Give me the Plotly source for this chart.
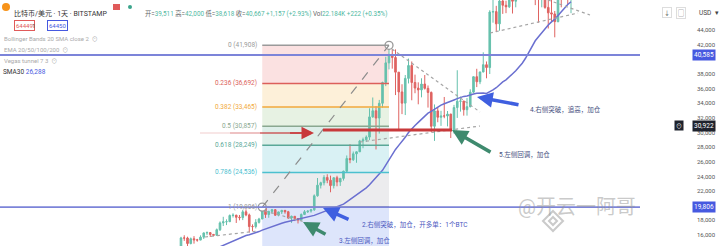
import pandas as pd
import plotly.graph_objects as go

# ---------------- data (daily BTC/USD, Bitstamp) ----------------
oct_close = [10620,10570,10550,10670,10790,10600,10670,10920,11060,11300,11380,11540,11430,11430,11500,
             11320,11370,11510,11750,11920,12820,12990,12930,13120,13030,13070,13650,13270,13460,13560,13800]

nov_open  = [13800,13760,13550,13950,14130,15590,15580,14830,15480,15330,15300,15700,16280,16320,16070,
             15960,16720,17650,17800,17820,18660,18700,18420,18370,19160,18740,17150,17140,17720,18180]
nov_high  = [13890,13820,14070,14240,15750,15960,15760,15650,15840,15470,15950,16340,16480,16330,16140,
             16880,17850,18480,18130,18800,18960,18760,18730,19420,19490,18920,17450,18160,18340,19806]
nov_low   = [13600,13200,13290,13530,14100,15190,14380,14710,14810,15080,15280,15450,15970,15720,15830,
             15870,16540,17220,17350,17750,18380,17640,18000,18030,18560,16330,16500,16890,17560,18180]
nov_close = [13760,13550,13950,14130,15590,15580,14830,15480,15330,15300,15700,16280,16320,16070,15960,
             16720,17650,17800,17820,18660,18700,18420,18370,19160,18740,17150,17140,17720,18180,19700]

dec_open  = [19700,18790,19220,19450,18700,19150,19360,19170,18320,18550,18250,18030,18800,19170,19270,19440,
             21350,22800,23130,23860,23480,22740,23820,23240,23730,24710,26440,26280,27080,27360,28840]
dec_high  = [19780,19300,19560,19520,19180,19420,19410,19290,18640,18560,18280,18940,19400,19330,19560,21540,
             23780,23270,24170,24290,24100,23840,24090,23800,24780,26860,28400,27400,27400,28990,29300]
dec_low   = [18330,18350,18920,18600,18550,18860,18900,18200,17650,17900,17570,18000,18720,19000,19050,19290,
             21230,22350,22770,23070,21830,22350,22650,22700,23430,24510,25800,26110,25860,27350,27850]
dec_close = [18790,19220,19450,18700,19150,19360,19170,18320,18550,18250,18030,18800,19170,19270,19440,21350,
             22800,23130,23860,23480,22740,23820,23240,23730,24710,26440,26280,27080,27360,28840,29000]

jan_open  = [29000,29370,32130,32960,31970,33990,36820,39511,40667,40240,38240,35540,34010,37390,39150,36830,
             36070,35810,36620,36030,35470,30850,32950,32080,32260,32250,32510,30400,33400,34270,34300]
jan_high  = [29600,33300,34780,33600,34450,36940,40340,42000,41380,41350,38260,36590,37850,40100,39700,37900,
             36850,37400,37850,36420,35600,33830,33460,32960,34850,32930,32560,33770,38500,34900,34300]
jan_low   = [28700,28950,32000,27680,29850,33400,36330,38618,38720,35110,30420,32510,32380,36700,34400,35360,
             33850,34800,35860,33400,30070,28850,31400,30900,31950,30830,29240,29850,31990,32850,32300]
jan_close = [29370,32130,32960,31970,33990,36820,39510,40667,40240,38240,35540,34010,37390,39150,36830,36070,
             35810,36620,36030,35470,30850,32950,32080,32260,32250,32510,30400,33400,34270,34300,33110]

feb_open  = [33110,33520,35510,37620,36930,38270,39260,38870,46450,46510,44840,47960,47380,47170,
             48730,47930,49170,52150,51600,55940,55910,57490,54100,48900,49700,47090,46340,46190]
feb_high  = [34700,35900,37650,38700,38300,40950,39700,46700,48200,47300,48600,48950,48000,49700,
             49000,50600,52600,52550,56300,57500,58350,57500,54200,51350,52000,48400,48300,46600]
feb_low   = [32300,33430,35400,36200,36600,38210,37400,37990,45000,43720,43900,46200,46300,47000,
             46250,47100,48950,50900,50700,53900,55500,47400,45000,47100,46900,44200,45200,43000]
feb_close = [33520,35510,37620,36930,38270,39260,38870,46450,46510,44840,47960,47380,47170,48730,
             47930,49170,52150,51600,55940,55910,57490,54100,48900,49700,47090,46340,46190,45140]

mar_open  = [45140,49630,48380,50540,48370]
mar_high  = [49800,50200,52600,51800,49400]
mar_low   = [45050,47100,48100,47500,46300]
mar_close = [49630,48380,50540,48370,48760]

dates = pd.date_range("2020-11-01", "2021-03-05", freq="D")
opens  = nov_open + dec_open + jan_open + feb_open + mar_open
highs  = nov_high + dec_high + jan_high + feb_high + mar_high
lows   = nov_low + dec_low + jan_low + feb_low + mar_low
closes = nov_close + dec_close + jan_close + feb_close + mar_close

sma30 = pd.Series(oct_close + closes).rolling(30).mean().iloc[len(oct_close):].tolist()

# Fibonacci retracement anchors
fib_lo, fib_hi = 19806, 41908
fib_start, fib_end = "2020-11-30", "2021-01-08"
fib_ratios = [0, 0.236, 0.382, 0.5, 0.618, 0.786, 1, 1.618]
fib_line_colors = ["#9a9a9a", "#dc5f5b", "#f2a93b", "#8aa890", "#5aa898", "#4cc0cf", "#9a9a9a"]
fib_zone_colors = ["#fbe1e1", "#fdf0d9", "#e7f2e3", "#ddefe9", "#d9f1f4", "#ececee", "#dde5fb"]

hline_prices = [40585, 19806]
price_ticks = [16000, 18000, 22000, 24000, 26000, 28000, 30000, 32000, 34000,
               36000, 38000, 42000, 44000]
last_price = 30922

# ---------------- geometry helpers ----------------
W, H, PW = 720, 246, 640
ref_day, ref_px, ppd = pd.Timestamp("2021-01-08"), 389, 3.25
x_start = ref_day - pd.Timedelta(days=ref_px / ppd)
x_end = ref_day + pd.Timedelta(days=(PW - ref_px) / ppd)
y_range = [14492, 48098]

def xd(px):
    return ref_day + pd.Timedelta(days=(px - ref_px) / ppd)

def yp(py):
    return y_range[1] - py / H * (y_range[1] - y_range[0])

def pxp(x):
    return x / PW

def pyp(y):
    return 1 - y / H

FONT = "Roboto, 'Noto Sans CJK SC', sans-serif"

fig = go.Figure()

fig.add_trace(go.Candlestick(
    x=dates, open=opens, high=highs, low=lows, close=closes,
    increasing=dict(line=dict(color="#66c1ad", width=1), fillcolor="#66c1ad"),
    decreasing=dict(line=dict(color="#df6361", width=1), fillcolor="#df6361"),
    whiskerwidth=0, hoverinfo="skip", showlegend=False))

fig.add_trace(go.Scatter(x=dates, y=sma30, mode="lines",
                         line=dict(color="#6a6fd0", width=1.5), hoverinfo="skip", showlegend=False))

shapes = []
annos = []
span = fib_hi - fib_lo
levels = [fib_hi - r * span for r in fib_ratios]
for i in range(len(fib_ratios) - 1):
    shapes.append(dict(type="rect", xref="x", yref="y", x0=fib_start, x1=fib_end,
                       y0=levels[i + 1], y1=levels[i], fillcolor=fib_zone_colors[i],
                       line=dict(width=0), layer="below"))
for i in range(7):
    shapes.append(dict(type="line", xref="x", yref="y", x0=fib_start, x1=fib_end,
                       y0=levels[i], y1=levels[i], line=dict(color=fib_line_colors[i], width=1.5)))
    annos.append(dict(x=fib_start, y=levels[i], xref="x", yref="y", xanchor="right", xshift=-3,
                      text=f"{fib_ratios[i]:g} ({levels[i]:,.0f})", showarrow=False,
                      font=dict(size=6.5, color=fib_line_colors[i])))

# fib trend line
shapes.append(dict(type="line", xref="x", yref="y", x0=fib_start, x1=fib_end, y0=fib_lo, y1=fib_hi,
                   line=dict(color="#8c8c8c", width=1.2, dash="dash")))

# horizontal blue lines
for p in hline_prices:
    shapes.append(dict(type="line", xref="paper", yref="y", x0=0, x1=1, y0=p, y1=p,
                       line=dict(color="#7c84d9", width=1.8)))

# dotted trend lines
dotted = [((392, 49), (480, 112)), ((360, 142), (480, 126)), ((490, 33), (578, 13)),
          ((548, 0), (590, 15)), ((205, 237), (258, 231)), ((265, 211), (305, 222))]
for (xa, ya), (xb, yb) in dotted:
    shapes.append(dict(type="line", xref="x", yref="y", x0=xd(xa), x1=xd(xb), y0=yp(ya), y1=yp(yb),
                       line=dict(color="#a5a5a5", width=1.2, dash="dot")))

# red thick support line
shapes.append(dict(type="line", xref="x", yref="y", x0=xd(323), x1=xd(452), y0=yp(130), y1=yp(130),
                   line=dict(color="#c8393b", width=3)))
# red fading arrow
segs = [(200, 230, 0.12), (230, 260, 0.3), (260, 290, 0.6), (290, 308, 0.9)]
for a, b, op in segs:
    shapes.append(dict(type="line", xref="x", yref="y", x0=xd(a), x1=xd(b), y0=yp(133), y1=yp(133),
                       line=dict(color="#c8393b", width=2), opacity=op))
annos.append(dict(x=xd(314), y=yp(133), xref="x", yref="y", ax=-10, ay=0, text="", showarrow=True,
                  arrowhead=2, arrowsize=1, arrowwidth=2.5, arrowcolor="#c8393b"))

# anchor circles
fig.add_trace(go.Scatter(x=[fib_start, fib_end], y=[fib_lo, fib_hi], mode="markers",
                         marker=dict(size=8, color="white", line=dict(color="#999999", width=1.3)),
                         hoverinfo="skip", showlegend=False, cliponaxis=False))

# strategy arrows and notes
arrows = [((477, 97), (43, 8), "#3f5fe0"), ((452, 130), (40, 23), "#3e8a6e"),
          ((323, 208), (27, 12), "#3f5fe0"), ((303, 222), (24, 13), "#3e8a6e")]
for (hx, hy), (ax, ay), col in arrows:
    annos.append(dict(x=xd(hx), y=yp(hy), xref="x", yref="y", ax=ax, ay=ay, text="", showarrow=True,
                      arrowhead=2, arrowsize=0.9, arrowwidth=3.5, arrowcolor=col))
notes = [(528, 109, "4.右侧突破，追高，加仓", "#46507e"),
         (497, 154, "5.左侧回调，加仓", "#46507e"),
         (360, 224, "2.右侧突破，加仓，开多单：1个BTC", "#4a58c0"),
         (337, 240, "3.左侧回调，加仓", "#4a58c0")]
for x, y, t, col in notes:
    annos.append(dict(x=xd(x), y=yp(y), xref="x", yref="y", xanchor="left", text=t, showarrow=False,
                      font=dict(size=6.5, color=col)))

# price-axis labels
def axis_box(price, text, bg):
    return dict(x=716 / PW, y=price, xref="paper", yref="y", xanchor="right", text=text,
                showarrow=False, bgcolor=bg, font=dict(size=6.5, color="white"), borderpad=1)
for p in hline_prices:
    annos.append(axis_box(p, f"{p:,}", "#4659e0"))
annos.append(axis_box(last_price, f"{last_price:,}", "#1e222d"))
annos.append(dict(x=684 / PW, y=last_price, xref="paper", yref="y", xanchor="right", text="⊙",
                  showarrow=False, bgcolor="#1e222d", font=dict(size=6, color="white"), borderpad=1))

# header
annos.append(dict(x=pxp(12), y=pyp(7), xref="paper", yref="paper", xanchor="left",
                  text="比特币/美元 · 1天 · BITSTAMP", showarrow=False, font=dict(size=7, color="#333")))
shapes.append(dict(type="circle", xref="paper", yref="paper", x0=pxp(2), x1=pxp(10), y0=pyp(11), y1=pyp(3),
                   fillcolor="#f7931a", line=dict(width=0)))
shapes.append(dict(type="rect", xref="paper", yref="paper", x0=pxp(113), x1=pxp(120), y0=pyp(10), y1=pyp(4),
                   fillcolor="#e05a5a", line=dict(width=0)))
shapes.append(dict(type="circle", xref="paper", yref="paper", x0=pxp(128), x1=pxp(132), y0=pyp(9), y1=pyp(5),
                   fillcolor="#3aa58c", line=dict(width=0)))
g = "#4fb89f"
ohlc = (f"开=<span style='color:{g}'>39,511</span> 高=<span style='color:{g}'>42,000</span> "
        f"低=<span style='color:{g}'>38,618</span> 收=<span style='color:{g}'>40,667</span> "
        f"<span style='color:{g}'>+1,157 (+2.93%)</span> Vol<span style='color:{g}'>22.184K</span> "
        f"<span style='color:{g}'>+222 (+0.35%)</span>")
annos.append(dict(x=pxp(143), y=pyp(7), xref="paper", yref="paper", xanchor="left", text=ohlc,
                  showarrow=False, font=dict(size=6.3, color="#666")))
annos.append(dict(x=pxp(14), y=pyp(20), xref="paper", yref="paper", text="64449", showarrow=False,
                  bordercolor="#e05a5a", borderwidth=1, borderpad=1, font=dict(size=6, color="#e05a5a")))
annos.append(dict(x=pxp(30), y=pyp(20), xref="paper", yref="paper", text="1", showarrow=False,
                  font=dict(size=6, color="#555")))
annos.append(dict(x=pxp(47), y=pyp(20), xref="paper", yref="paper", text="64450", showarrow=False,
                  bordercolor="#4659e0", borderwidth=1, borderpad=1, font=dict(size=6, color="#4659e0")))
for y, t in [(33, "Bollinger Bands 20 SMA close 2"), (44, "EMA 20/50/100/200"), (55, "Vegas tunnel 7 3")]:
    annos.append(dict(x=pxp(2), y=pyp(y), xref="paper", yref="paper", xanchor="left",
                      text=t + "  ⊙", showarrow=False, font=dict(size=6, color="#aaaaaa")))
annos.append(dict(x=pxp(1), y=pyp(66), xref="paper", yref="paper", xanchor="left",
                  text="SMA30 <span style='color:#4659e0'>26,288</span>", showarrow=False,
                  font=dict(size=6.5, color="#333")))

# top-right controls
for x, t in [(672, "↓"), (686, "▢")]:
    annos.append(dict(x=pxp(x), y=pyp(7), xref="paper", yref="paper", text=t, showarrow=False,
                      bordercolor="#dddddd", borderwidth=1, borderpad=1, font=dict(size=6, color="#555")))
annos.append(dict(x=pxp(697), y=pyp(7), xref="paper", yref="paper", xanchor="left", text="USD  ▾",
                  showarrow=False, font=dict(size=6.5, color="#444")))

# watermark: logo as diamond outlines + text
wm = "rgba(150,150,150,0.5)"
for cx, cy, r in [(553, 221, 10), (553, 221, 4)]:
    path = (f"M {pxp(cx)},{pyp(cy - r)} L {pxp(cx + r)},{pyp(cy)} "
            f"L {pxp(cx)},{pyp(cy + r)} L {pxp(cx - r)},{pyp(cy)} Z")
    shapes.append(dict(type="path", xref="paper", yref="paper", path=path,
                       line=dict(color=wm, width=2)))
annos.append(dict(x=pxp(638), y=pyp(221), xref="paper", yref="paper", text="@开云一阿哥", showarrow=False,
                  font=dict(size=20, color=wm)))

fig.update_layout(
    width=W, height=H, margin=dict(l=0, r=W - PW, t=0, b=0),
    paper_bgcolor="white", plot_bgcolor="white", showlegend=False,
    font=dict(family=FONT),
    xaxis=dict(type="date", range=[x_start, x_end], visible=False, rangeslider=dict(visible=False),
               fixedrange=True),
    yaxis=dict(range=y_range, side="right", tickvals=price_ticks,
               ticktext=[f"{v:,}" for v in price_ticks], showgrid=False, zeroline=False, ticks="",
               ticklabelstandoff=56, tickfont=dict(size=6, color="#555"), showline=False, fixedrange=True),
    shapes=shapes, annotations=annos,
)

fig.write_html("out.html")
